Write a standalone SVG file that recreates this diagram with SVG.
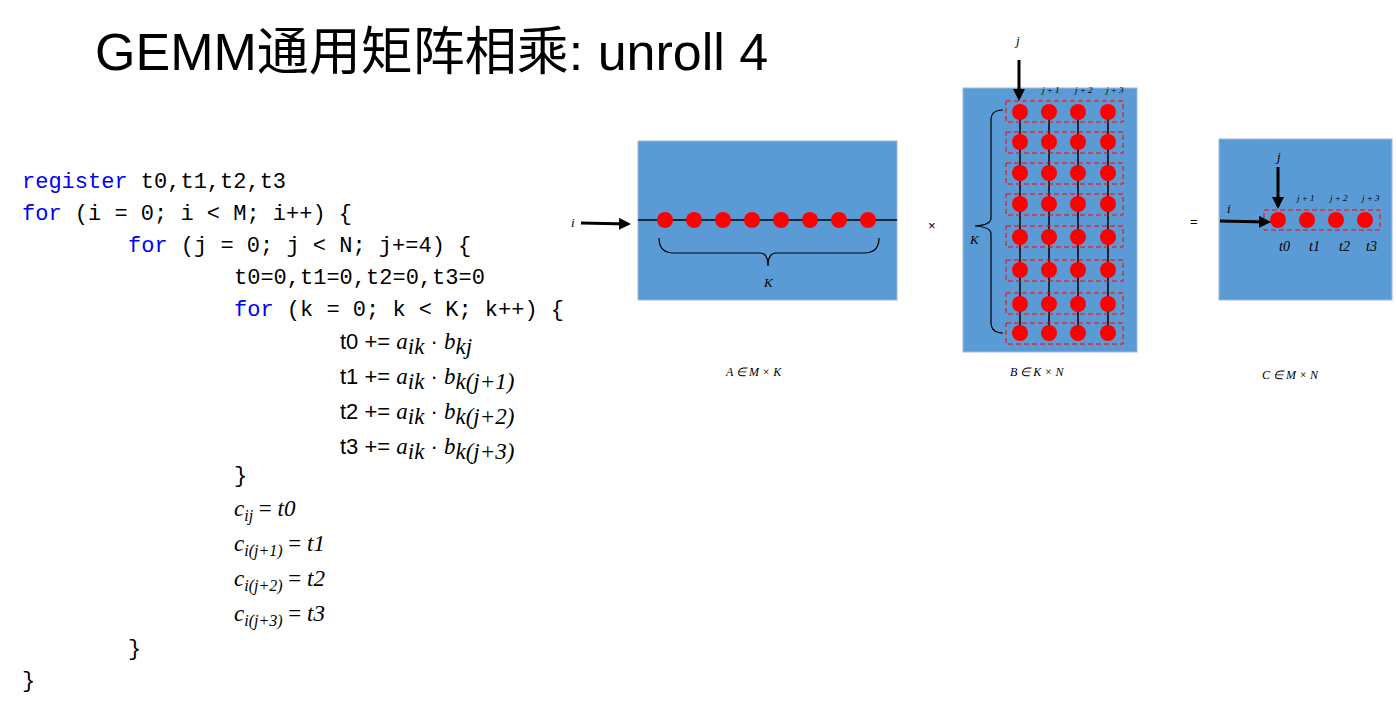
<svg xmlns="http://www.w3.org/2000/svg" width="1396" height="709" viewBox="0 0 1396 709">
<style>
.code{font-family:"Liberation Mono",monospace;font-size:22px;fill:#000}
.kw{fill:#0000ff}
.m{font-family:"Liberation Serif",serif;font-size:23px;font-style:italic}
.n{font-family:"Liberation Sans",sans-serif;font-size:22px}
.s{font-family:"Liberation Serif",serif;font-style:italic}
.mat{fill:#5b9bd5;stroke:#a0b8d8;stroke-width:1}
.dot{fill:#ff0000}
.box{fill:none;stroke:#ff0000;stroke-width:1;stroke-dasharray:5,3}
.ln{stroke:#000;stroke-width:1.5}
.ar{stroke:#000;stroke-width:3;marker-end:url(#ah)}
.br{fill:none;stroke:#000;stroke-width:1.2}
</style>
<defs><marker id="ah" markerWidth="4" markerHeight="4" refX="3" refY="2" orient="auto"><path d="M0,0L4,2L0,4z" fill="#000"/></marker></defs>
<rect width="1396" height="709" fill="#fff"/>
<text x="95" y="70" font-family="'Liberation Sans','Noto Sans CJK SC',sans-serif" font-size="52">GEMM通用矩阵相乘: unroll 4</text>
<g id="code">
<text class="code" x="22" y="188"><tspan class="kw">register</tspan> t0,t1,t2,t3</text>
<text class="code" x="22" y="220"><tspan class="kw">for</tspan> (i = 0; i &lt; M; i++) {</text>
<text class="code" x="128" y="252"><tspan class="kw">for</tspan> (j = 0; j &lt; N; j+=4) {</text>
<text class="code" x="234" y="284">t0=0,t1=0,t2=0,t3=0</text>
<text class="code" x="234" y="316"><tspan class="kw">for</tspan> (k = 0; k &lt; K; k++) {</text>
<text class="n" x="340" y="349">t0 += <tspan class="m">a</tspan><tspan class="m" font-size="16" dy="5">ik</tspan><tspan dy="-5"> · </tspan><tspan class="m">b</tspan><tspan class="m" font-size="16" dy="5">kj</tspan></text>
<text class="n" x="340" y="384">t1 += <tspan class="m">a</tspan><tspan class="m" font-size="16" dy="5">ik</tspan><tspan dy="-5"> · </tspan><tspan class="m">b</tspan><tspan class="m" font-size="16" dy="5">k(j+1)</tspan></text>
<text class="n" x="340" y="419">t2 += <tspan class="m">a</tspan><tspan class="m" font-size="16" dy="5">ik</tspan><tspan dy="-5"> · </tspan><tspan class="m">b</tspan><tspan class="m" font-size="16" dy="5">k(j+2)</tspan></text>
<text class="n" x="340" y="454">t3 += <tspan class="m">a</tspan><tspan class="m" font-size="16" dy="5">ik</tspan><tspan dy="-5"> · </tspan><tspan class="m">b</tspan><tspan class="m" font-size="16" dy="5">k(j+3)</tspan></text>
<text class="code" x="234" y="482">}</text>
<text class="m" x="234" y="516">c<tspan font-size="16" dy="5">ij</tspan><tspan dy="-5" font-style="normal"> = </tspan>t0</text>
<text class="m" x="234" y="551">c<tspan font-size="16" dy="5">i(j+1)</tspan><tspan dy="-5" font-style="normal"> = </tspan>t1</text>
<text class="m" x="234" y="586">c<tspan font-size="16" dy="5">i(j+2)</tspan><tspan dy="-5" font-style="normal"> = </tspan>t2</text>
<text class="m" x="234" y="621">c<tspan font-size="16" dy="5">i(j+3)</tspan><tspan dy="-5" font-style="normal"> = </tspan>t3</text>
<text class="code" x="128" y="655">}</text>
<text class="code" x="22" y="687">}</text>
</g>
<g id="matA">
<rect class="mat" x="638" y="141" width="259" height="159"/>
<line class="ln" x1="638" y1="220" x2="897" y2="220" stroke-width="1"/>
<g class="dot"><circle cx="665" cy="220" r="8"/><circle cx="694" cy="220" r="8"/><circle cx="723" cy="220" r="8"/><circle cx="752" cy="220" r="8"/><circle cx="781" cy="220" r="8"/><circle cx="810" cy="220" r="8"/><circle cx="839" cy="220" r="8"/><circle cx="868" cy="220" r="8"/></g>
<path class="br" d="M659,238 Q659,253 674,253 L760,253 Q768,253 768,266 Q768,253 776,253 L864,253 Q879,253 879,238"/>
<text class="s" x="764" y="287" font-size="13">K</text>
<text class="s" x="726" y="376" font-size="12">A ∈ M × K</text>
</g>
<g id="matB">
<rect class="mat" x="963" y="88" width="174" height="264"/>
<g class="ln"><line x1="1020" y1="112" x2="1020" y2="333"/><line x1="1049" y1="112" x2="1049" y2="333"/><line x1="1078" y1="112" x2="1078" y2="333"/><line x1="1108" y1="112" x2="1108" y2="333"/></g>
<g id="rows">
<g><rect class="box" x="1006" y="101" width="117" height="21"/><circle class="dot" cx="1020" cy="112" r="8"/><circle class="dot" cx="1049" cy="112" r="8"/><circle class="dot" cx="1078" cy="112" r="8"/><circle class="dot" cx="1108" cy="112" r="8"/></g>
<g><rect class="box" x="1006" y="132" width="117" height="21"/><circle class="dot" cx="1020" cy="142" r="8"/><circle class="dot" cx="1049" cy="142" r="8"/><circle class="dot" cx="1078" cy="142" r="8"/><circle class="dot" cx="1108" cy="142" r="8"/></g>
<g><rect class="box" x="1006" y="163" width="117" height="21"/><circle class="dot" cx="1020" cy="173" r="8"/><circle class="dot" cx="1049" cy="173" r="8"/><circle class="dot" cx="1078" cy="173" r="8"/><circle class="dot" cx="1108" cy="173" r="8"/></g>
<g><rect class="box" x="1006" y="194" width="117" height="21"/><circle class="dot" cx="1020" cy="204" r="8"/><circle class="dot" cx="1049" cy="204" r="8"/><circle class="dot" cx="1078" cy="204" r="8"/><circle class="dot" cx="1108" cy="204" r="8"/></g>
<g><rect class="box" x="1006" y="226" width="117" height="21"/><circle class="dot" cx="1020" cy="237" r="8"/><circle class="dot" cx="1049" cy="237" r="8"/><circle class="dot" cx="1078" cy="237" r="8"/><circle class="dot" cx="1108" cy="237" r="8"/></g>
<g><rect class="box" x="1006" y="260" width="117" height="21"/><circle class="dot" cx="1020" cy="270" r="8"/><circle class="dot" cx="1049" cy="270" r="8"/><circle class="dot" cx="1078" cy="270" r="8"/><circle class="dot" cx="1108" cy="270" r="8"/></g>
<g><rect class="box" x="1006" y="293" width="117" height="21"/><circle class="dot" cx="1020" cy="304" r="8"/><circle class="dot" cx="1049" cy="304" r="8"/><circle class="dot" cx="1078" cy="304" r="8"/><circle class="dot" cx="1108" cy="304" r="8"/></g>
<g><rect class="box" x="1006" y="323" width="117" height="21"/><circle class="dot" cx="1020" cy="333" r="8"/><circle class="dot" cx="1049" cy="333" r="8"/><circle class="dot" cx="1078" cy="333" r="8"/><circle class="dot" cx="1108" cy="333" r="8"/></g>
</g>
<path class="br" d="M1003,110 Q991,110 991,120 L991,218 Q991,225 975,226 Q991,227 991,234 L991,322 Q991,333 1003,333"/>
<text class="s" x="970" y="244" font-size="13">K</text>
<text class="s" x="1016" y="45" font-size="13">j</text>
<text class="s" x="1042" y="93" font-size="9">j + 1</text>
<text class="s" x="1075" y="93" font-size="9">j + 2</text>
<text class="s" x="1106" y="93" font-size="9">j + 3</text>
<text class="s" x="1010" y="376" font-size="12">B ∈ K × N</text>
</g>
<g id="matC">
<rect class="mat" x="1219" y="139" width="173" height="161"/>
<rect class="box" x="1264" y="210" width="116" height="20"/>
<g class="dot"><circle cx="1278" cy="220" r="8"/><circle cx="1307" cy="220" r="8"/><circle cx="1336" cy="220" r="8"/><circle cx="1365" cy="220" r="8"/></g>
<text class="s" x="1277" y="161" font-size="13">j</text>
<text class="s" x="1297" y="201" font-size="9">j + 1</text>
<text class="s" x="1330" y="201" font-size="9">j + 2</text>
<text class="s" x="1362" y="201" font-size="9">j + 3</text>
<text class="s" x="1227" y="213" font-size="13">i</text>
<g class="s" font-size="14"><text x="1279" y="251">t0</text><text x="1309" y="251">t1</text><text x="1339" y="251">t2</text><text x="1366" y="251">t3</text></g>
<text class="s" x="1262" y="379" font-size="12">C ∈ M × N</text>
</g>
<g id="connectors">
<line class="ar" x1="581" y1="223" x2="628" y2="224"/>
<line class="ar" x1="1019" y1="60" x2="1019" y2="98"/>
<line class="ar" x1="1220" y1="221" x2="1268" y2="222"/>
<line class="ar" x1="1278" y1="167" x2="1278" y2="206"/>
</g>
<text class="s" x="571" y="227" font-size="13">i</text>
<text x="928" y="230" font-family="'Liberation Sans',sans-serif" font-size="13">×</text>
<text x="1190" y="226" font-family="'Liberation Sans',sans-serif" font-size="13">=</text>
</svg>
